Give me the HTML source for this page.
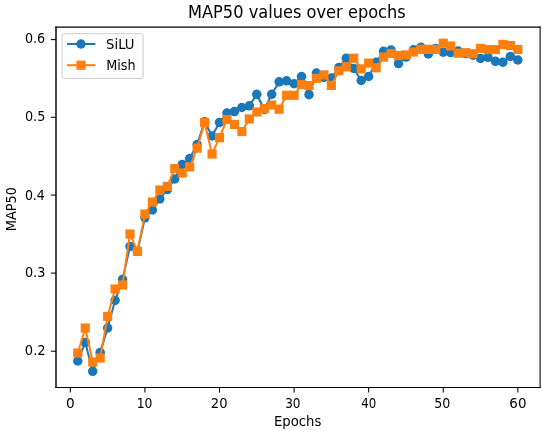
<!DOCTYPE html>
<html><head><meta charset="utf-8"><title>MAP50 values over epochs</title>
<style>html,body{margin:0;padding:0;background:#fff}body{width:550px;height:435px;overflow:hidden}</style></head>
<body>
<svg width="550" height="435" viewBox="0 0 550 435" style="display:block">
<rect width="550" height="435" fill="#fff"/>
<g font-family="'DejaVu Sans', 'Liberation Sans', sans-serif" fill="#000">
<polyline points="77.80,361.00 85.26,342.40 92.71,371.30 100.17,352.40 107.63,328.00 115.09,300.50 122.55,279.40 130.00,246.40 137.46,251.40 144.92,217.80 152.38,210.00 159.84,199.00 167.29,189.60 174.75,179.00 182.21,164.50 189.67,158.50 197.13,144.50 204.58,121.70 212.04,136.00 219.50,122.40 226.96,113.00 234.42,111.60 241.87,107.50 249.33,105.80 256.79,94.30 264.25,109.50 271.71,94.30 279.16,81.80 286.62,80.80 294.08,83.70 301.54,76.50 309.00,94.70 316.45,73.10 323.91,77.50 331.37,78.10 338.83,67.60 346.29,58.20 353.74,68.40 361.20,80.50 368.66,76.50 376.12,62.30 383.58,51.30 391.03,50.10 398.49,63.60 405.95,57.10 413.41,49.80 420.87,47.30 428.32,53.90 435.78,48.40 443.24,52.20 450.70,52.60 458.16,51.00 465.61,53.60 473.07,55.20 480.53,58.50 487.99,57.30 495.45,61.30 502.90,62.20 510.36,56.40 517.82,60.00" fill="none" stroke="#1a77b8" stroke-width="2.031" stroke-linejoin="round"/>
<circle cx="77.80" cy="361.00" r="4.75" fill="#1a77b8"/>
<circle cx="85.26" cy="342.40" r="4.75" fill="#1a77b8"/>
<circle cx="92.71" cy="371.30" r="4.75" fill="#1a77b8"/>
<circle cx="100.17" cy="352.40" r="4.75" fill="#1a77b8"/>
<circle cx="107.63" cy="328.00" r="4.75" fill="#1a77b8"/>
<circle cx="115.09" cy="300.50" r="4.75" fill="#1a77b8"/>
<circle cx="122.55" cy="279.40" r="4.75" fill="#1a77b8"/>
<circle cx="130.00" cy="246.40" r="4.75" fill="#1a77b8"/>
<circle cx="137.46" cy="251.40" r="4.75" fill="#1a77b8"/>
<circle cx="144.92" cy="217.80" r="4.75" fill="#1a77b8"/>
<circle cx="152.38" cy="210.00" r="4.75" fill="#1a77b8"/>
<circle cx="159.84" cy="199.00" r="4.75" fill="#1a77b8"/>
<circle cx="167.29" cy="189.60" r="4.75" fill="#1a77b8"/>
<circle cx="174.75" cy="179.00" r="4.75" fill="#1a77b8"/>
<circle cx="182.21" cy="164.50" r="4.75" fill="#1a77b8"/>
<circle cx="189.67" cy="158.50" r="4.75" fill="#1a77b8"/>
<circle cx="197.13" cy="144.50" r="4.75" fill="#1a77b8"/>
<circle cx="204.58" cy="121.70" r="4.75" fill="#1a77b8"/>
<circle cx="212.04" cy="136.00" r="4.75" fill="#1a77b8"/>
<circle cx="219.50" cy="122.40" r="4.75" fill="#1a77b8"/>
<circle cx="226.96" cy="113.00" r="4.75" fill="#1a77b8"/>
<circle cx="234.42" cy="111.60" r="4.75" fill="#1a77b8"/>
<circle cx="241.87" cy="107.50" r="4.75" fill="#1a77b8"/>
<circle cx="249.33" cy="105.80" r="4.75" fill="#1a77b8"/>
<circle cx="256.79" cy="94.30" r="4.75" fill="#1a77b8"/>
<circle cx="264.25" cy="109.50" r="4.75" fill="#1a77b8"/>
<circle cx="271.71" cy="94.30" r="4.75" fill="#1a77b8"/>
<circle cx="279.16" cy="81.80" r="4.75" fill="#1a77b8"/>
<circle cx="286.62" cy="80.80" r="4.75" fill="#1a77b8"/>
<circle cx="294.08" cy="83.70" r="4.75" fill="#1a77b8"/>
<circle cx="301.54" cy="76.50" r="4.75" fill="#1a77b8"/>
<circle cx="309.00" cy="94.70" r="4.75" fill="#1a77b8"/>
<circle cx="316.45" cy="73.10" r="4.75" fill="#1a77b8"/>
<circle cx="323.91" cy="77.50" r="4.75" fill="#1a77b8"/>
<circle cx="331.37" cy="78.10" r="4.75" fill="#1a77b8"/>
<circle cx="338.83" cy="67.60" r="4.75" fill="#1a77b8"/>
<circle cx="346.29" cy="58.20" r="4.75" fill="#1a77b8"/>
<circle cx="353.74" cy="68.40" r="4.75" fill="#1a77b8"/>
<circle cx="361.20" cy="80.50" r="4.75" fill="#1a77b8"/>
<circle cx="368.66" cy="76.50" r="4.75" fill="#1a77b8"/>
<circle cx="376.12" cy="62.30" r="4.75" fill="#1a77b8"/>
<circle cx="383.58" cy="51.30" r="4.75" fill="#1a77b8"/>
<circle cx="391.03" cy="50.10" r="4.75" fill="#1a77b8"/>
<circle cx="398.49" cy="63.60" r="4.75" fill="#1a77b8"/>
<circle cx="405.95" cy="57.10" r="4.75" fill="#1a77b8"/>
<circle cx="413.41" cy="49.80" r="4.75" fill="#1a77b8"/>
<circle cx="420.87" cy="47.30" r="4.75" fill="#1a77b8"/>
<circle cx="428.32" cy="53.90" r="4.75" fill="#1a77b8"/>
<circle cx="435.78" cy="48.40" r="4.75" fill="#1a77b8"/>
<circle cx="443.24" cy="52.20" r="4.75" fill="#1a77b8"/>
<circle cx="450.70" cy="52.60" r="4.75" fill="#1a77b8"/>
<circle cx="458.16" cy="51.00" r="4.75" fill="#1a77b8"/>
<circle cx="465.61" cy="53.60" r="4.75" fill="#1a77b8"/>
<circle cx="473.07" cy="55.20" r="4.75" fill="#1a77b8"/>
<circle cx="480.53" cy="58.50" r="4.75" fill="#1a77b8"/>
<circle cx="487.99" cy="57.30" r="4.75" fill="#1a77b8"/>
<circle cx="495.45" cy="61.30" r="4.75" fill="#1a77b8"/>
<circle cx="502.90" cy="62.20" r="4.75" fill="#1a77b8"/>
<circle cx="510.36" cy="56.40" r="4.75" fill="#1a77b8"/>
<circle cx="517.82" cy="60.00" r="4.75" fill="#1a77b8"/>
<polyline points="77.80,353.00 85.26,328.00 92.71,362.00 100.17,358.00 107.63,316.40 115.09,289.00 122.55,285.00 130.00,234.00 137.46,251.40 144.92,214.00 152.38,202.00 159.84,190.00 167.29,186.40 174.75,168.60 182.21,173.00 189.67,167.00 197.13,148.20 204.58,122.60 212.04,154.00 219.50,137.60 226.96,119.40 234.42,124.40 241.87,131.60 249.33,118.90 256.79,112.00 264.25,108.70 271.71,105.00 279.16,109.20 286.62,95.30 294.08,95.30 301.54,84.50 309.00,85.60 316.45,78.30 323.91,74.90 331.37,85.40 338.83,70.80 346.29,66.90 353.74,58.20 361.20,68.90 368.66,63.10 376.12,67.80 383.58,57.10 391.03,53.50 398.49,55.60 405.95,54.90 413.41,52.00 420.87,49.30 428.32,49.30 435.78,49.50 443.24,43.20 450.70,46.00 458.16,53.20 465.61,52.70 473.07,53.70 480.53,48.40 487.99,49.60 495.45,49.60 502.90,44.40 510.36,45.50 517.82,49.50" fill="none" stroke="#ff7f0e" stroke-width="2.031" stroke-linejoin="round"/>
<rect x="73.22" y="348.43" width="9.15" height="9.15" fill="#ff7f0e"/>
<rect x="80.68" y="323.43" width="9.15" height="9.15" fill="#ff7f0e"/>
<rect x="88.14" y="357.43" width="9.15" height="9.15" fill="#ff7f0e"/>
<rect x="95.60" y="353.43" width="9.15" height="9.15" fill="#ff7f0e"/>
<rect x="103.05" y="311.82" width="9.15" height="9.15" fill="#ff7f0e"/>
<rect x="110.51" y="284.43" width="9.15" height="9.15" fill="#ff7f0e"/>
<rect x="117.97" y="280.43" width="9.15" height="9.15" fill="#ff7f0e"/>
<rect x="125.43" y="229.43" width="9.15" height="9.15" fill="#ff7f0e"/>
<rect x="132.89" y="246.83" width="9.15" height="9.15" fill="#ff7f0e"/>
<rect x="140.35" y="209.43" width="9.15" height="9.15" fill="#ff7f0e"/>
<rect x="147.80" y="197.43" width="9.15" height="9.15" fill="#ff7f0e"/>
<rect x="155.26" y="185.43" width="9.15" height="9.15" fill="#ff7f0e"/>
<rect x="162.72" y="181.83" width="9.15" height="9.15" fill="#ff7f0e"/>
<rect x="170.18" y="164.03" width="9.15" height="9.15" fill="#ff7f0e"/>
<rect x="177.64" y="168.43" width="9.15" height="9.15" fill="#ff7f0e"/>
<rect x="185.09" y="162.43" width="9.15" height="9.15" fill="#ff7f0e"/>
<rect x="192.55" y="143.62" width="9.15" height="9.15" fill="#ff7f0e"/>
<rect x="200.01" y="118.02" width="9.15" height="9.15" fill="#ff7f0e"/>
<rect x="207.47" y="149.43" width="9.15" height="9.15" fill="#ff7f0e"/>
<rect x="214.93" y="133.03" width="9.15" height="9.15" fill="#ff7f0e"/>
<rect x="222.38" y="114.83" width="9.15" height="9.15" fill="#ff7f0e"/>
<rect x="229.84" y="119.83" width="9.15" height="9.15" fill="#ff7f0e"/>
<rect x="237.30" y="127.02" width="9.15" height="9.15" fill="#ff7f0e"/>
<rect x="244.76" y="114.33" width="9.15" height="9.15" fill="#ff7f0e"/>
<rect x="252.22" y="107.42" width="9.15" height="9.15" fill="#ff7f0e"/>
<rect x="259.67" y="104.12" width="9.15" height="9.15" fill="#ff7f0e"/>
<rect x="267.13" y="100.42" width="9.15" height="9.15" fill="#ff7f0e"/>
<rect x="274.59" y="104.62" width="9.15" height="9.15" fill="#ff7f0e"/>
<rect x="282.05" y="90.72" width="9.15" height="9.15" fill="#ff7f0e"/>
<rect x="289.51" y="90.72" width="9.15" height="9.15" fill="#ff7f0e"/>
<rect x="296.96" y="79.92" width="9.15" height="9.15" fill="#ff7f0e"/>
<rect x="304.42" y="81.02" width="9.15" height="9.15" fill="#ff7f0e"/>
<rect x="311.88" y="73.72" width="9.15" height="9.15" fill="#ff7f0e"/>
<rect x="319.34" y="70.33" width="9.15" height="9.15" fill="#ff7f0e"/>
<rect x="326.80" y="80.83" width="9.15" height="9.15" fill="#ff7f0e"/>
<rect x="334.25" y="66.22" width="9.15" height="9.15" fill="#ff7f0e"/>
<rect x="341.71" y="62.33" width="9.15" height="9.15" fill="#ff7f0e"/>
<rect x="349.17" y="53.62" width="9.15" height="9.15" fill="#ff7f0e"/>
<rect x="356.63" y="64.33" width="9.15" height="9.15" fill="#ff7f0e"/>
<rect x="364.08" y="58.52" width="9.15" height="9.15" fill="#ff7f0e"/>
<rect x="371.54" y="63.22" width="9.15" height="9.15" fill="#ff7f0e"/>
<rect x="379.00" y="52.52" width="9.15" height="9.15" fill="#ff7f0e"/>
<rect x="386.46" y="48.92" width="9.15" height="9.15" fill="#ff7f0e"/>
<rect x="393.92" y="51.02" width="9.15" height="9.15" fill="#ff7f0e"/>
<rect x="401.38" y="50.32" width="9.15" height="9.15" fill="#ff7f0e"/>
<rect x="408.83" y="47.42" width="9.15" height="9.15" fill="#ff7f0e"/>
<rect x="416.29" y="44.72" width="9.15" height="9.15" fill="#ff7f0e"/>
<rect x="423.75" y="44.72" width="9.15" height="9.15" fill="#ff7f0e"/>
<rect x="431.21" y="44.92" width="9.15" height="9.15" fill="#ff7f0e"/>
<rect x="438.67" y="38.62" width="9.15" height="9.15" fill="#ff7f0e"/>
<rect x="446.12" y="41.42" width="9.15" height="9.15" fill="#ff7f0e"/>
<rect x="453.58" y="48.62" width="9.15" height="9.15" fill="#ff7f0e"/>
<rect x="461.04" y="48.12" width="9.15" height="9.15" fill="#ff7f0e"/>
<rect x="468.50" y="49.12" width="9.15" height="9.15" fill="#ff7f0e"/>
<rect x="475.95" y="43.82" width="9.15" height="9.15" fill="#ff7f0e"/>
<rect x="483.41" y="45.02" width="9.15" height="9.15" fill="#ff7f0e"/>
<rect x="490.87" y="45.02" width="9.15" height="9.15" fill="#ff7f0e"/>
<rect x="498.33" y="39.82" width="9.15" height="9.15" fill="#ff7f0e"/>
<rect x="505.79" y="40.92" width="9.15" height="9.15" fill="#ff7f0e"/>
<rect x="513.25" y="44.92" width="9.15" height="9.15" fill="#ff7f0e"/>
<line x1="56.0" y1="26.50" x2="56.0" y2="388.05" stroke="#000" stroke-width="1.45"/>
<line x1="540.1" y1="26.50" x2="540.1" y2="388.05" stroke="#000" stroke-width="1.050"/>
<line x1="55.30" y1="27.15" x2="540.60" y2="27.15" stroke="#000" stroke-width="1.2"/>
<line x1="55.30" y1="387.5" x2="540.60" y2="387.5" stroke="#000" stroke-width="1.050"/>
<line x1="70.34" y1="387.5" x2="70.34" y2="392.60" stroke="#000" stroke-width="1.050"/>
<line x1="144.92" y1="387.5" x2="144.92" y2="392.60" stroke="#000" stroke-width="1.050"/>
<line x1="219.50" y1="387.5" x2="219.50" y2="392.60" stroke="#000" stroke-width="1.050"/>
<line x1="294.08" y1="387.5" x2="294.08" y2="392.60" stroke="#000" stroke-width="1.050"/>
<line x1="368.66" y1="387.5" x2="368.66" y2="392.60" stroke="#000" stroke-width="1.050"/>
<line x1="443.24" y1="387.5" x2="443.24" y2="392.60" stroke="#000" stroke-width="1.050"/>
<line x1="517.82" y1="387.5" x2="517.82" y2="392.60" stroke="#000" stroke-width="1.050"/>
<line x1="50.90" y1="351.2" x2="56.0" y2="351.2" stroke="#000" stroke-width="1.050"/>
<line x1="50.90" y1="273.1" x2="56.0" y2="273.1" stroke="#000" stroke-width="1.050"/>
<line x1="50.90" y1="195.1" x2="56.0" y2="195.1" stroke="#000" stroke-width="1.050"/>
<line x1="50.90" y1="117.3" x2="56.0" y2="117.3" stroke="#000" stroke-width="1.050"/>
<line x1="50.90" y1="39.6" x2="56.0" y2="39.6" stroke="#000" stroke-width="1.050"/>
<rect x="62.1" y="33.7" width="81" height="44.7" rx="2" fill="#fff" fill-opacity="0.8" stroke="#ccc" stroke-width="1"/>
<line x1="67" y1="44.0" x2="95.3" y2="44.0" stroke="#1a77b8" stroke-width="2.031"/>
<circle cx="81" cy="44.0" r="4.75" fill="#1a77b8"/>
<line x1="67" y1="65.2" x2="95.3" y2="65.2" stroke="#ff7f0e" stroke-width="2.031"/>
<rect x="76.42" y="60.62" width="9.15" height="9.15" fill="#ff7f0e"/>
<text transform="translate(187.95,17.92) scale(0.9989,1.1106)" font-size="16.25">MAP50 values over epochs</text>
<text transform="translate(273.93,426.11) scale(0.9786,1.0425)" font-size="13.54">Epochs</text>
<text transform="translate(16.30,231.24) rotate(-90) scale(0.9547,1.0010)" font-size="13.54">MAP50</text>
<text transform="translate(106.12,49.06) scale(0.9725,1.0023)" font-size="13.54">SiLU</text>
<text transform="translate(106.17,69.81) scale(0.9477,1.0015)" font-size="13.54">Mish</text>
<text transform="translate(65.93,407.65) scale(1.0107,1.0147)" font-size="13.54">0</text>
<text transform="translate(136.69,407.65) scale(0.9191,1.0147)" font-size="13.54">10</text>
<text transform="translate(210.81,407.65) scale(0.9698,1.0147)" font-size="13.54">20</text>
<text transform="translate(285.13,407.65) scale(0.8914,1.0147)" font-size="13.54">30</text>
<text transform="translate(361.33,407.65) scale(0.8734,1.0147)" font-size="13.54">40</text>
<text transform="translate(434.17,407.65) scale(0.9358,1.0147)" font-size="13.54">50</text>
<text transform="translate(509.35,407.65) scale(0.9925,1.0147)" font-size="13.54">60</text>
<text transform="translate(24.87,355.05) scale(0.9627,0.9874)" font-size="13.54">0.2</text>
<text transform="translate(24.89,277.25) scale(0.9497,0.9874)" font-size="13.54">0.3</text>
<text transform="translate(24.90,200.35) scale(0.9258,0.9874)" font-size="13.54">0.4</text>
<text transform="translate(24.88,121.45) scale(0.9497,0.9874)" font-size="13.54">0.5</text>
<text transform="translate(24.90,43.21) scale(0.9381,0.9874)" font-size="13.54">0.6</text>
</g></svg>
</body></html>
